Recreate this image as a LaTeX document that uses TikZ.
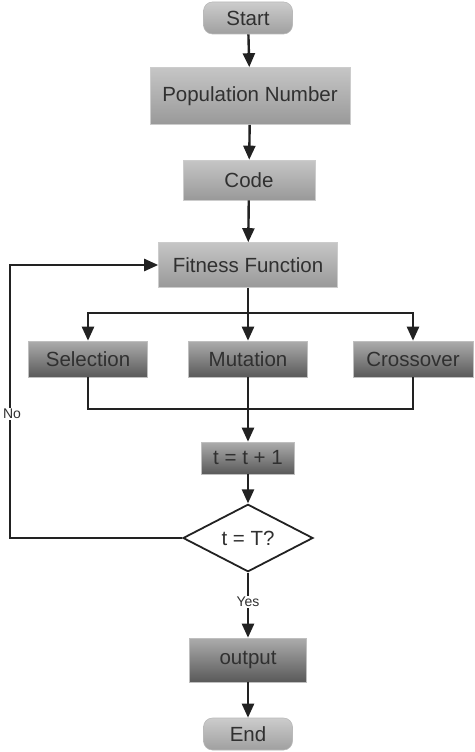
\documentclass[tikz,border=0pt]{standalone}
\usepackage{fontspec}
\setmainfont{Liberation Sans}
\usetikzlibrary{shapes.geometric,arrows.meta}
\definecolor{txt}{HTML}{303030}
\definecolor{ln}{HTML}{222222}
\begin{document}
\begin{tikzpicture}[x=1pt,y=-1pt,
  font=\fontsize{20.5}{24}\selectfont, text=txt,
  term/.style={rounded corners=9pt, top color=gray!40, bottom color=gray!75, draw=gray!55, line width=0.6pt, minimum width=89pt, minimum height=32pt, inner sep=0pt},
  lightbox/.style={top color=gray!45, bottom color=gray!80, draw=gray!40, line width=0.6pt, inner sep=0pt},
  dbox/.style={top color=gray!65, bottom color=black!65, draw=gray!50, line width=0.6pt, inner sep=0pt},
  conn/.style={draw=ln, line width=2.4pt},
  arr/.style={conn, -{Triangle[length=14pt,width=12pt]}},
  small/.style={font=\fontsize{14}{16}\selectfont, text=txt}
]
\useasboundingbox (0,0) rectangle (474,752);
\node[term] (start) at (248,18) {Start};
\node[lightbox, minimum width=200pt, minimum height=57pt] (pop) at (250,96) {Population Number};
\node[lightbox, minimum width=132pt, minimum height=40pt] (code) at (249,180) {Code};
\node[lightbox, minimum width=179pt, minimum height=45pt] (fit) at (248,265) {Fitness Function};
\node[dbox, minimum width=119pt, minimum height=36pt] (sel) at (88,359) {Selection};
\node[dbox, minimum width=119pt, minimum height=36pt] (mut) at (248,359) {Mutation};
\node[dbox, minimum width=120pt, minimum height=36pt] (cro) at (413,359) {Crossover};
\node[dbox, minimum width=93pt, minimum height=32pt] (inc) at (248,458) {t = t + 1};
\node[diamond, draw=ln, line width=1.8pt, fill=white, minimum width=130pt, minimum height=53pt, inner sep=0pt] (dec) at (248,538) {t = T?};
\node[dbox, minimum width=117pt, minimum height=44pt] (out) at (248,660) {output};
\node[term] (end) at (248,734) {End};

\coordinate (split) at (248,313);
\coordinate (merge) at (248,409);
\coordinate (nodown) at (10,538);
\coordinate (noup) at (10,265);

\draw[arr] (start) -- (pop);
\draw[arr] (pop) -- (code);
\draw[arr] (code) -- (fit);
\draw[conn] (fit) -- (split);
\draw[arr] (split) -| (sel.north);
\draw[arr] (split) -- (mut.north);
\draw[arr] (split) -| (cro.north);
\draw[conn] (sel.south) |- (merge) -| (cro.south);
\draw[arr] (mut.south) -- (inc.north);
\draw[arr] (inc) -- (dec.north);
\draw[arr] (dec.south) -- node[pos=0.45, fill=white, inner sep=1pt, small] {Yes} (out.north);
\draw[arr] (out) -- (end);
\draw[arr] (dec.west) -- (nodown) -- (noup) -- (fit.west);
\node[small, fill=white, inner sep=1pt] (no) at (12,414) {No};
\end{tikzpicture}
\end{document}
